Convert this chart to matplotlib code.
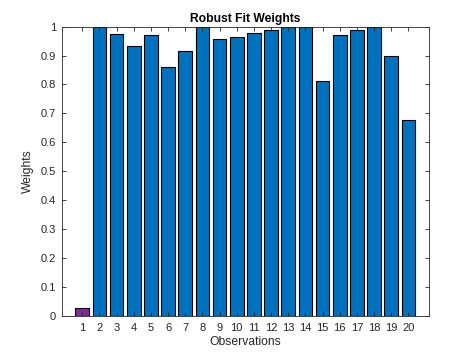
import matplotlib
matplotlib.use("Agg")
import matplotlib.pyplot as plt
import numpy as np

plt.rcParams['font.family'] = ['Liberation Sans', 'DejaVu Sans']

observations = list(range(1, 21))
weights = [0.026, 1.0, 0.975, 0.932, 0.970, 0.859, 0.916, 1.0, 0.957, 0.963,
           0.978, 0.987, 1.0, 1.0, 0.813, 0.972, 0.988, 1.0, 0.897, 0.678]
outlier_index = 0

blue = '#0072BD'
purple = '#7E2F8E'
colors = [purple if i == outlier_index else blue for i in range(len(weights))]

fig = plt.figure(figsize=(4.74, 3.55), dpi=100)
ax = fig.add_axes([0.13, 0.11, 0.775, 0.815])
ax.bar(observations, weights, width=0.8, color=colors, edgecolor='black', linewidth=0.8)

ax.set_xlim(-0.2, 21.2)
ax.set_ylim(0, 1)
ax.set_xticks(observations)
ax.set_yticks(np.round(np.arange(0, 1.01, 0.1), 1))
ax.set_yticklabels(['0'] + [f'{v:.1f}' for v in np.arange(0.1, 0.95, 0.1)] + ['1'])

ax.tick_params(direction='in', top=True, right=True, length=3, width=0.6,
               labelsize=8, colors='#262626', labelcolor='#262626')
ax.tick_params(axis='x', pad=5)
ax.tick_params(axis='y', pad=4)
for s in ax.spines.values():
    s.set_color('#262626')
    s.set_linewidth(0.6)

ax.set_xlabel('Observations', fontsize=8.7, color='#262626', labelpad=2)
ax.set_ylabel('Weights', fontsize=8.7, color='#262626', labelpad=5)
ax.set_title('Robust Fit Weights', fontsize=8.7, fontweight='bold', pad=3)

fig.savefig('out.png', dpi=100)
